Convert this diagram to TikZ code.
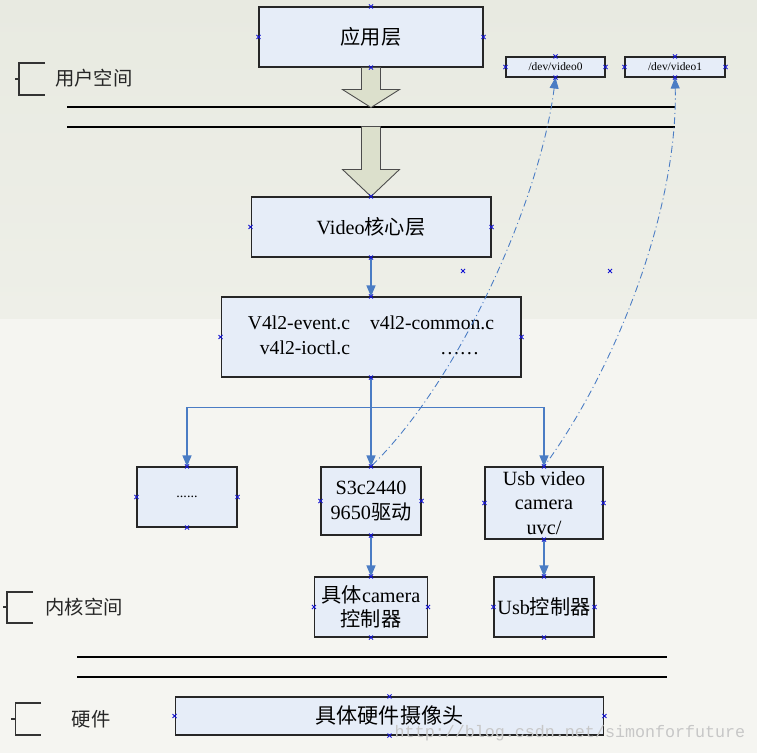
\documentclass[tikz,border=0pt]{standalone}
\usepackage{fontspec}
\setmainfont{Liberation Serif}
\newfontfamily\cjk{Noto Sans CJK SC}
\newfontfamily\wmfont{Liberation Mono}
\usetikzlibrary{arrows.meta}
\definecolor{boxfill}{RGB}{230,237,248}
\definecolor{linkblue}{RGB}{74,124,196}
\definecolor{arrowfill}{RGB}{220,224,204}
\definecolor{skytop}{RGB}{232,234,225}
\definecolor{skybot}{RGB}{238,239,232}
\definecolor{groundbg}{RGB}{245,245,241}
\definecolor{markblue}{RGB}{20,20,210}

\begin{document}
\begin{tikzpicture}[x=0.02cm, y=-0.02cm,
    box/.style={draw=black!85, line width=0.6pt, fill=boxfill, inner sep=0pt, align=center, font=\fontsize{11.5}{14}\selectfont},
    devbox/.style={box, font=\fontsize{6.5}{8}\selectfont},
    link/.style={draw=linkblue, line width=0.6pt, -{Triangle[width=0.18cm,length=0.22cm]}},
    devlink/.style={draw=linkblue, line width=0.5pt, dash pattern=on 4pt off 1.8pt on 0.6pt off 1.8pt, {Triangle[width=0.18cm,length=0.22cm]}-},
    blockarrow/.style={draw=black!70, line width=0.5pt, fill=arrowfill},
    sepline/.style={draw=black, line width=0.7pt},
    brace/.style={draw=black!80, line width=0.6pt},
    lbl/.style={font=\cjk\fontsize{11}{13}\selectfont, text=black!85},
    cmk/.style={draw=markblue, line width=0.5pt}]
    % background
    \fill[groundbg] (0,0) rectangle (757,753);
    \shade[top color=skytop, bottom color=skybot] (0,0) rectangle (757,318);
    \useasboundingbox (0,0) rectangle (757,753);

    % separators
    \draw[sepline] (67,107) -- (675,107);
    \draw[sepline] (67,127) -- (675,127);
    \draw[sepline] (77,657) -- (667,657);
    \draw[sepline] (77,677) -- (667,677);

    % space labels
    \node[lbl] (us) at (94,78) {用户空间};
    \draw[brace] (45,63) -- (19,63) -- (19,95) -- (45,95) (15,79) -- (19,79);
    \node[lbl] (ks) at (84,607) {内核空间};
    \draw[brace] (33,592) -- (7,592) -- (7,623) -- (33,623) (3,607) -- (7,607);
    \node[lbl] (hwl) at (91,719) {硬件};
    \draw[brace] (41,703) -- (15.5,703) -- (15.5,735) -- (41,735) (11,719) -- (15.5,719);

    \node[box, minimum width=4.48cm, minimum height=1.2cm] (app) at (371,37) {\cjk 应用层};
    \node[devbox, minimum width=1.98cm, minimum height=0.4cm] (dev0) at (555.5,67) {/dev/video0};
    \node[devbox, minimum width=2cm, minimum height=0.4cm] (dev1) at (675,67) {/dev/video1};
    \node[box, minimum width=4.8cm, minimum height=1.2cm] (core) at (371,227) {Video{\cjk 核心层}};
    \node[box, minimum width=6cm, minimum height=1.6cm, font=\fontsize{11.2}{14}\selectfont] (v4l) at (371,337) {\begin{tabular}{@{}r@{\hspace{0.4cm}}l@{}}V4l2-event.c & v4l2-common.c\\ v4l2-ioctl.c & \hspace{1.4cm}……\end{tabular}};
    \node[box, minimum width=2cm, minimum height=1.2cm] (dots) at (187,497) {\fontsize{8}{10}\selectfont......};
    \node[box, minimum width=2cm, minimum height=1.36cm] (s3c) at (371,501) {S3c2440\\9650{\cjk 驱动}};
    \node[box, minimum width=2.36cm, minimum height=1.44cm] (usbv) at (544,503) {Usb video\\camera\\uvc/};
    \node[box, minimum width=2.26cm, minimum height=1.2cm] (camc) at (371,607) {{\cjk 具体}camera\\{\cjk 控制器}};
    \node[box, minimum width=2cm, minimum height=1.2cm] (usbc) at (544,607) {Usb{\cjk 控制器}};
    \node[box, minimum width=8.58cm, minimum height=0.76cm, font=\cjk\fontsize{12}{14}\selectfont] (hw) at (389.5,716) {具体硬件摄像头};

    % block arrows
    \draw[blockarrow, shift={(app.south)}] (-9.5,0) -- (9.5,0) -- (9.5,22) -- (28.5,22) -- (0,40) -- (-28.5,22) -- (-9.5,22) -- cycle;
    \draw[blockarrow, shift={(core.north)}] (-9.5,-70) -- (9.5,-70) -- (9.5,-27) -- (28.5,-27) -- (0,0) -- (-28.5,-27) -- (-9.5,-27) -- cycle;

    % links
    \path (v4l.south) ++(0,30) coordinate (split);
    \draw[link] (core.south) -- (v4l.north);
    \draw[link] (v4l.south) -- (s3c.north);
    \draw[link] (split) -| (dots.north);
    \draw[link] (split) -| (usbv.north);
    \draw[link] (s3c.south) -- (camc.north);
    \draw[link] (usbv.south) -- (usbc.north);
    \draw[devlink] (dev0.south) .. controls (540,200) and (460,380) .. (s3c.north);
    \draw[devlink] (dev1.south) .. controls (678,210) and (615,370) .. (usbv.north);

    % connection marks
    \coordinate (c0) at (463,271);
    \coordinate (c1) at (610,271);
    \foreach \n in {app,dev0,dev1,core,v4l,dots,s3c,usbv,camc,usbc,hw} {
        \foreach \a in {north,south,east,west} {
            \draw[cmk] (\n.\a) +(-2,-2) -- +(2,2) +(-2,2) -- +(2,-2);
        }
    }
    \draw[cmk] (c0) +(-2,-2) -- +(2,2) +(-2,2) -- +(2,-2);
    \draw[cmk] (c1) +(-2,-2) -- +(2,2) +(-2,2) -- +(2,-2);

    \node[font=\wmfont\fontsize{9.5}{11}\selectfont, text=black!22] (wm) at (570,733) {http://blog.csdn.net/simonforfuture};
\end{tikzpicture}
\end{document}
